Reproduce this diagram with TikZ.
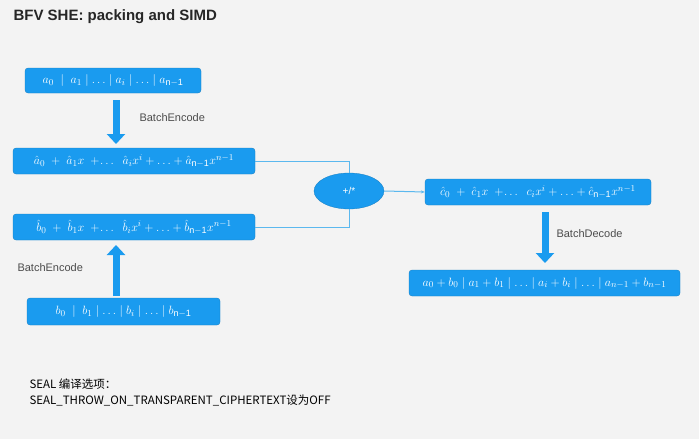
\documentclass[tikz,border=0pt]{standalone}
\usepackage{fontspec}
\setmainfont{Liberation Sans}
\newfontfamily\cjk{Noto Sans CJK SC}
\usetikzlibrary{shapes.geometric,arrows.meta}
\definecolor{bx}{HTML}{1A9BEF}
\definecolor{ln}{HTML}{5BB8EE}
\definecolor{bg}{HTML}{F3F3F3}
\begin{document}
\begin{tikzpicture}[x=1pt,y=-1pt,
  box/.style={fill=bx,draw=bx!80!black,line width=0.3pt,rounded corners=3pt,text=white,font=\fontsize{13}{15}\selectfont},
  fat/.style={-{Triangle[width=18pt,length=10pt]},line width=7pt,draw=bx},
  lbl/.style={text=black!70,font=\fontsize{11}{13}\selectfont,anchor=west},
  con/.style={draw=ln,line width=1pt}]
\fill[bg] (0,0) rectangle (699,439);
\useasboundingbox (0,0) rectangle (699,439);
\node[anchor=west,font=\bfseries\fontsize{15}{18}\selectfont,text=black!85] (title) at (10,17) {BFV SHE: packing and SIMD};
\node[box,minimum width=176pt,minimum height=25pt] (a) at (113,80.5) {$a_0 \;\mid\; a_1 \mid \ldots \mid a_i \mid \ldots \mid a_{\mathrm{n-1}}$};
\node[box,minimum width=242pt,minimum height=26pt] (ah) at (134,161) {$\hat a_0 \;+\; \hat a_1 x \;+\!\ldots\;\; \hat a_i x^i + \ldots + \hat a_{\mathrm{n-1}} x^{n-1}$};
\node[box,minimum width=242pt,minimum height=26pt] (bh) at (134,227) {$\hat b_0 \;+\; \hat b_1 x \;+\!\ldots\;\; \hat b_i x^i + \ldots + \hat b_{\mathrm{n-1}} x^{n-1}$};
\node[box,minimum width=193pt,minimum height=27pt] (b) at (123.5,311.5) {$b_0 \;\mid\; b_1 \mid \ldots \mid b_i \mid \ldots \mid b_{\mathrm{n-1}}$};
\node[ellipse,fill=bx,draw=bx!80!black,line width=0.3pt,minimum width=70pt,minimum height=36pt,text=white,font=\fontsize{10}{12}\selectfont] (op) at (349,191) {+/*};
\node[box,minimum width=226pt,minimum height=26pt] (c) at (538,192) {$\hat c_0 \;+\; \hat c_1 x \;+\!\ldots\;\; c_i x^i + \ldots + \hat c_{\mathrm{n-1}} x^{n-1}$};
\node[box,minimum width=271pt,minimum height=26pt] (r) at (544.5,283) {$a_0+b_0 \mid a_1+b_1 \mid \ldots \mid a_i+b_i \mid \ldots \mid a_{n-1}+b_{n-1}$};
\coordinate (a1) at (116,100); \coordinate (a2) at (116,144);
\coordinate (b1) at (116,296); \coordinate (b2) at (116,245);
\coordinate (c1) at (545,212); \coordinate (c2) at (545,263);
\draw[fat] (a1) -- (a2);
\draw[fat] (b1) -- (b2);
\draw[fat] (c1) -- (c2);
\node[lbl] (l1) at (136,118) {BatchEncode};
\node[lbl] (l2) at (14,268) {BatchEncode};
\node[lbl] (l3) at (553,234) {BatchDecode};
\draw[con] (ah.east) -| (op.north);
\draw[con] (bh.east) -| (op.south);
\draw[con,-{Stealth[length=4pt]}] (op.east) -- (c.west);
\node[anchor=west,font=\cjk\fontsize{11.5}{16}\selectfont,text=black,align=left] (note) at (26,392) {SEAL 编译选项：\\SEAL\_THROW\_ON\_TRANSPARENT\_CIPHERTEXT设为OFF};
\end{tikzpicture}
\end{document}
